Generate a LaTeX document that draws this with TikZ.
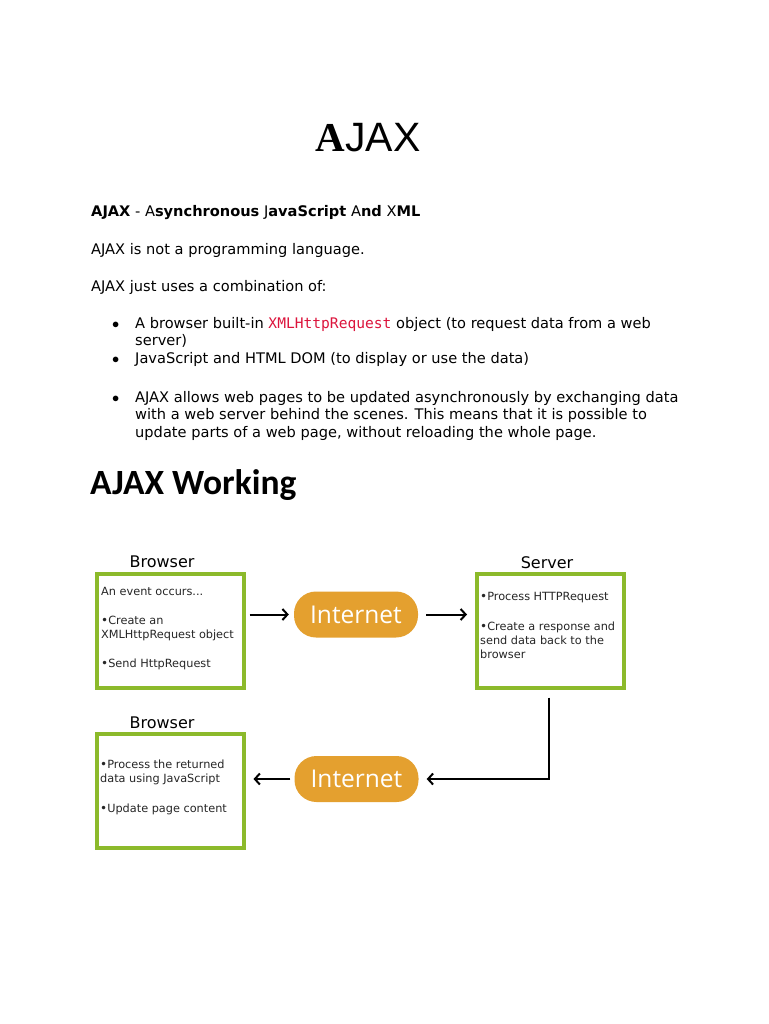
\documentclass[tikz,border=0pt]{standalone}
\usepackage{fontspec}
\setmainfont{DejaVu Sans}
\setmonofont{DejaVu Sans Mono}
\newfontfamily\titleserif{Liberation Serif}
\newfontfamily\titlesans{Liberation Sans}
\newfontfamily\headfont{Carlito}
\newfontfamily\pillfont{Open Sans}
\usetikzlibrary{arrows.meta}

\definecolor{boxgreen}{HTML}{8CBA2B}
\definecolor{pillorange}{HTML}{E4A02F}
\definecolor{codered}{HTML}{DC143C}

\newcommand{\boxdot}{{\fontsize{12}{14}\selectfont\textbullet}}

\tikzset{
  body/.style={anchor=base west, inner sep=0pt, font=\fontsize{14.6}{17.5}\selectfont},
  greenbox/.style={draw=boxgreen, line width=4pt, minimum width=147pt, minimum height=114pt, inner sep=0pt},
  boxtext/.style={anchor=base west, inner sep=0pt, font=\fontsize{11.3}{14}\selectfont, text=black!85},
  boxlabel/.style={anchor=base, inner sep=0pt, font=\fontsize{16}{16}\selectfont},
  pill/.style={fill=pillorange, rounded corners=22pt, minimum width=124pt, minimum height=46pt, text=white, font=\pillfont\fontsize{24.5}{24.5}\selectfont},
  flow/.style={-{Straight Barb[length=5pt,width=11pt,line width=2pt]}, line width=2pt}
}

\begin{document}
\begin{tikzpicture}[x=1pt, y=-1pt]
  \useasboundingbox (0,0) rectangle (768,1024);
  \fill[white] (0,0) rectangle (768,1024);

  % heading
  \node[anchor=base, inner sep=0pt] (title) at (368,152)
    {\fontsize{41}{41}\selectfont{\titleserif\bfseries A}{\titlesans JAX}};

  % text
  \node[body] (def) at (91,217) {\textbf{AJAX} - A\textbf{synchronous} J\textbf{avaScript} A\textbf{nd} X\textbf{ML}};
  \node[body] (notlang) at (91,254) {AJAX is not a programming language.};
  \node[body] (uses) at (91,291) {AJAX just uses a combination of:};

  \node[body] (b1) at (112,328) {$\bullet$};
  \node[body] (t1a) at (135,328) {A browser built-in {\ttfamily\color{codered}XMLHttpRequest} object (to request data from a web};
  \node[body] (t1b) at (135,345.5) {server)};
  \node[body] (b2) at (112,363) {$\bullet$};
  \node[body] (t2) at (135,363) {JavaScript and HTML DOM (to display or use the data)};
  \node[body] (b3) at (112,402) {$\bullet$};
  \node[body] (t3a) at (135,402) {AJAX allows web pages to be updated asynchronously by exchanging data};
  \node[body] (t3b) at (135,419.5) {with a web server behind the scenes. This means that it is possible to};
  \node[body] (t3c) at (135,437) {update parts of a web page, without reloading the whole page.};

  \node[anchor=base west, inner sep=0pt] (working) at (90,494)
    {\headfont\bfseries\fontsize{35.5}{35.5}\selectfont AJAX Working};

  % diagram
  \node[greenbox] (browser1) at (170,630.5) {};
  \node[greenbox] (server) at (550.5,630.5) {};
  \node[greenbox] (browser2) at (170,790.5) {};
  \node[boxlabel] (lb1) at (162,567) {Browser};
  \node[boxlabel] (ls) at (547,568) {Server};
  \node[boxlabel] (lb2) at (162,728) {Browser};

  \node[boxtext] (e1a) at (101,595) {An event occurs...};
  \node[boxtext] (e1b) at (101,624) {\boxdot Create an};
  \node[boxtext] (e1c) at (101,638) {XMLHttpRequest object};
  \node[boxtext] (e1d) at (101,667) {\boxdot Send HttpRequest};

  \node[boxtext] (e2a) at (480,600) {\boxdot Process HTTPRequest};
  \node[boxtext] (e2b) at (480,630) {\boxdot Create a response and};
  \node[boxtext] (e2c) at (480,644) {send data back to the};
  \node[boxtext] (e2d) at (480,658) {browser};

  \node[boxtext] (e3a) at (100,768) {\boxdot Process the returned};
  \node[boxtext] (e3b) at (100,782) {data using JavaScript};
  \node[boxtext] (e3c) at (100,812) {\boxdot Update page content};

  \node[pill] (net1) at (356,614.5) {Internet};
  \node[pill] (net2) at (356.5,779) {Internet};

  \coordinate (down) at (549,779);
  \draw[flow] ([xshift=4pt]browser1.east |- net1) -- ([xshift=-5pt]net1.west);
  \draw[flow] ([xshift=8pt]net1.east) -- ([xshift=-8pt]server.west |- net1);
  \draw[flow] ([yshift=-8pt]server.south -| down) -- (down) -- ([xshift=8pt]net2.east);
  \draw[flow] ([xshift=-4pt]net2.west) -- ([xshift=8pt]browser2.east |- net2);
\end{tikzpicture}
\end{document}
